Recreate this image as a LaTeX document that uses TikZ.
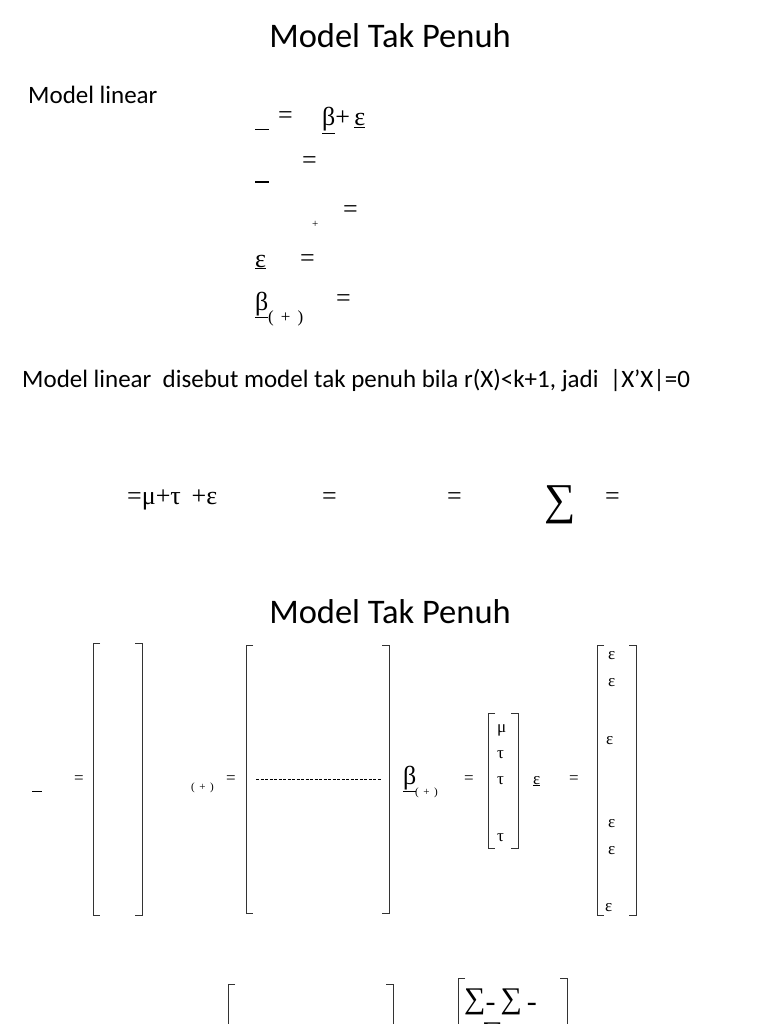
\documentclass[tikz,border=0pt]{standalone}
\usepackage{fontspec}
\setmainfont{Carlito}
\newfontfamily\tms{Liberation Serif}
\begin{document}
\begin{tikzpicture}[x=1pt,y=-1pt,
  txt/.style={inner sep=0pt,anchor=base west,font=\fontsize{25}{30}\selectfont},
  ttl/.style={inner sep=0pt,anchor=base,font=\fontsize{34.5}{40}\selectfont},
  mth/.style={inner sep=0pt,anchor=base west,font=\tms\fontsize{26}{30}\selectfont},
  sml/.style={inner sep=0pt,anchor=base west,font=\tms\fontsize{17}{20}\selectfont},
  tny/.style={inner sep=0pt,anchor=base west,font=\tms\fontsize{11}{13}\selectfont},
  brk/.style={draw=black!80,line width=0.8pt}]
\useasboundingbox (0,0) rectangle (768,1024);
\fill[white] (0,0) rectangle (768,1024);
\node[ttl] (t1) at (390,48) {Model Tak Penuh};
\node[txt] (ml) at (28,104) {Model linear};
% equations
\node[mth] (e1a) at (255,130) {\rule{14pt}{0.7pt}};
\node[mth] (e1b) at (278,124) {=};
\node[mth] (e1c) at (322,126) {\underline{β}+\,\underline{ε}};
\node[mth] (e2a) at (255,183) {\rule{14pt}{1.6pt}};
\node[mth] (e2b) at (302,169) {=};
\node[tny] (e3a) at (312,227) {+};
\node[mth] (e3b) at (343,218) {=};
\node[mth] (e4a) at (255,267) {\underline{ε}};
\node[mth] (e4b) at (300,266) {=};
\node[mth] (e5a) at (255,310) {\underline{β}};
\node[sml] (e5s) at (268,322) {( \,+\, )};
\node[mth] (e5b) at (336,306) {=};
\node[txt] (ml2) at (22,387) {Model linear \ disebut model tak penuh bila r(X)<k+1, jadi \ |X’X|=0};
\node[mth] (q1) at (127,504) {=μ+τ \,+ε};
\node[mth] (q2) at (322,504) {=};
\node[mth] (q3) at (447,504) {=};
\node[inner sep=0pt,anchor=base west,font=\tms\fontsize{44}{46}\selectfont] (q4) at (544,514) {∑};
\node[mth] (q5) at (605,504) {=};
\node[ttl] (t2) at (390,623) {Model Tak Penuh};
% matrices
\foreach \l/\r/\t/\b in {93/142/643/915, 246/389/645/913, 488/518/713/848, 597/636/645/915}{
  \draw[brk] (\l+7,\t)--(\l,\t)--(\l,\b)--(\l+7,\b);
  \draw[brk] (\r-7,\t)--(\r,\t)--(\r,\b)--(\r-7,\b);
}
\node[sml] (y) at (32,792) {\rule{10pt}{0.6pt}};
\node[sml] (eq1) at (74,783) {=};
\node[tny] (xs) at (191,790) {( \,+\, )};
\node[sml] (eq2) at (226,783) {=};
\draw[dash pattern=on 3pt off 1.5pt,line width=0.5pt] (256,779)--(381,779);
\node[mth] (b) at (403,784) {\underline{β}};
\node[tny] (bs) at (415,795) {( \,+\, )};
\node[sml] (eq3) at (464,783) {=};
\node[sml] (m1) at (497,732) {μ};
\node[sml] (m2) at (497,758) {τ};
\node[sml] (m3) at (497,784) {τ};
\node[sml] (m4) at (497,841) {τ};
\node[sml] (ep) at (533,784) {\underline{ε}};
\node[sml] (eq4) at (569,783) {=};
\foreach \yy/\xx in {659/608,686/608,744/606,827/608,854/608,911/605}{\node[sml] at (\xx,\yy) {ε};}
% bottom
\draw[brk] (235,984)--(228,984)--(228,1030);
\draw[brk] (386,984)--(393,984)--(393,1030);
\draw[brk] (465,978)--(458,978)--(458,1030);
\draw[brk] (560,978)--(567,978)--(567,1030);
\node[inner sep=0pt,anchor=base west,font=\tms\fontsize{30}{32}\selectfont] (s1) at (464,1008) {∑\raisebox{-3pt}{-}\,∑\,\raisebox{-3pt}{-}};
\node[inner sep=0pt,anchor=base west,font=\tms\fontsize{30}{32}\selectfont] (s2) at (482,1042) {∑};
\end{tikzpicture}
\end{document}
